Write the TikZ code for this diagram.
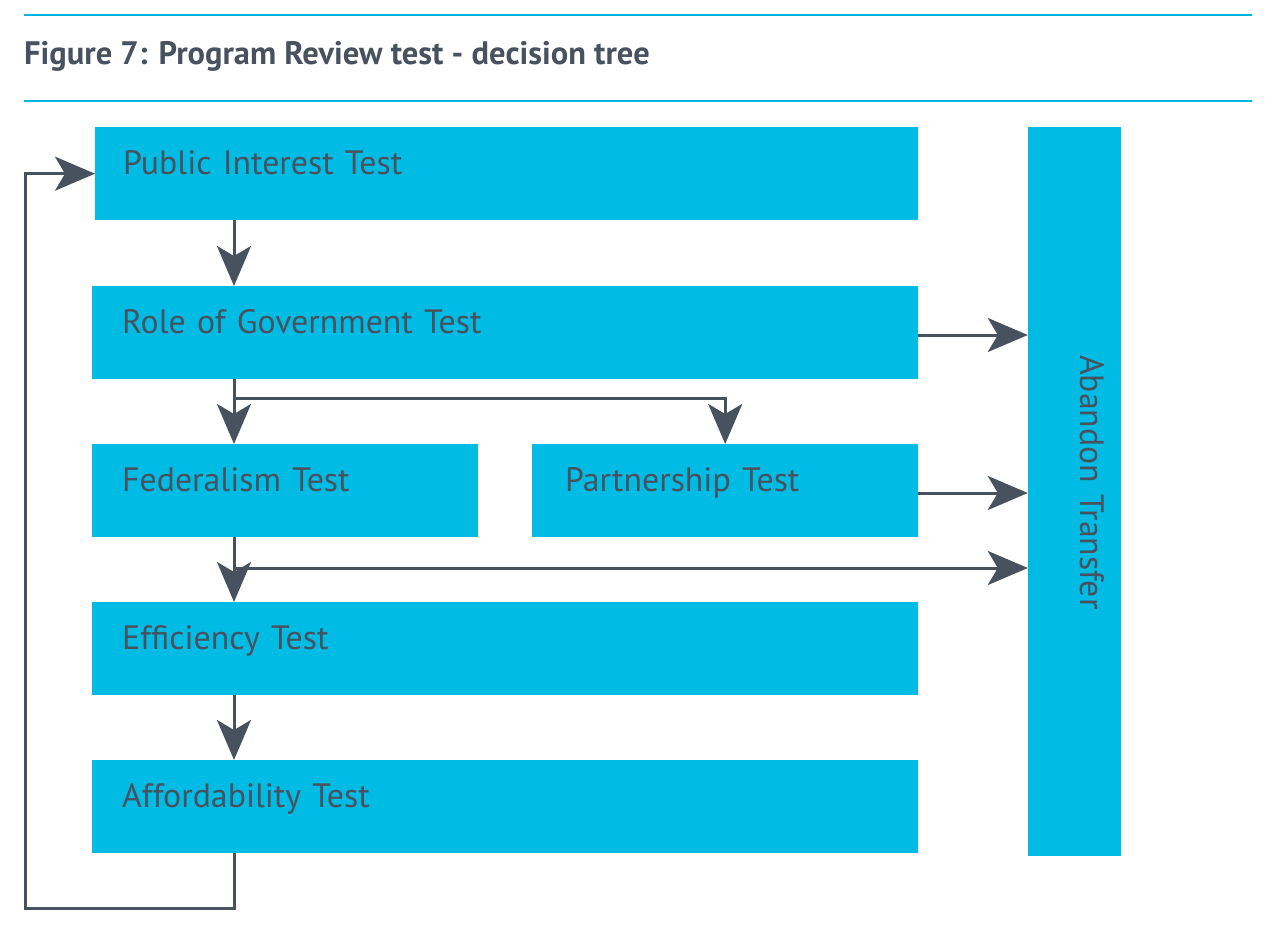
\documentclass[tikz,border=0pt]{standalone}
\usepackage{fontspec}
\setmainfont{PT Sans}
\usetikzlibrary{arrows.meta}

\definecolor{boxblue}{RGB}{0,188,228}
\definecolor{rulecyan}{RGB}{0,180,225}
\definecolor{inkgrey}{RGB}{71,82,94}

\tikzset{
  testbox/.style = {fill=boxblue, anchor=north west, minimum height=93pt,
    inner xsep=30pt, align=left, text=inkgrey,
    font=\fontsize{33.8}{40}\selectfont, text height=24pt, text depth=22pt},
  sidebox/.style = {fill=boxblue, rotate=-90, minimum width=729pt, minimum height=93pt,
    inner xsep=228pt, inner ysep=0pt, text width=273pt, align=left, text=inkgrey,
    font=\fontsize{33.8}{40}\selectfont, text height=24pt, text depth=35pt},
  flow/.style = {draw=inkgrey, line width=3pt, line join=miter,
    -{Stealth[length=40pt,width=34pt,inset=10pt]}}
}

\begin{document}
\begin{tikzpicture}[x=1pt,y=-1pt]
  \useasboundingbox (0,0) rectangle (1274,924);

  % Heading
  \draw[rulecyan, line width=1.5pt] (24,15) -- (1252,15);
  \node[anchor=base west, inner sep=0pt, text=inkgrey,
        font=\bfseries\fontsize{32.5}{38}\selectfont] (title) at (24,64)
        {Figure 7: Program Review test - decision tree};
  \draw[rulecyan, line width=1.5pt] (24,101) -- (1252,101);

  % Tests
  \node[testbox, minimum width=823pt, text width=767pt, inner xsep=28pt] (pub) at (95,127) {Public Interest Test};
  \node[testbox, minimum width=826pt, text width=766pt] (role) at (92,286) {Role of Government Test};
  \node[testbox, minimum width=386pt, text width=326pt] (fed) at (92,444) {Federalism Test};
  \node[testbox, minimum width=386pt, text width=326pt] (part) at (532,444) {\hspace{3pt}Partnership Test};
  \node[testbox, minimum width=826pt, text width=766pt] (eff) at (92,602) {Efficiency Test};
  \node[testbox, minimum width=826pt, text width=766pt] (afford) at (92,760) {Affordability Test};
  \node[sidebox] (aban) at (1074.5,491.5) {Abandon Transfer};

  % Connectors
  \coordinate (sp) at (234,0);
  \coordinate (split) at (234,398);
  \coordinate (join) at (234,568);
  \coordinate (lowturn) at (25,908);
  \coordinate (roleout) at (918,335);
  \coordinate (partout) at (918,493);

  \draw[flow] (pub.south -| sp) -- (role.north -| sp);
  \draw[flow] (role.south -| sp) -- (fed.north -| sp);
  \draw[flow] (split) -| (part.north);
  \draw[flow] (roleout) -- (roleout -| aban.south);
  \draw[flow] (partout) -- (partout -| aban.south);
  \draw[flow] (fed.south -| sp) -- (eff.north -| sp);
  \draw[flow] (join) -- (join -| aban.south);
  \draw[flow] (eff.south -| sp) -- (afford.north -| sp);
  \draw[flow] (afford.south -| sp) |- (lowturn) |- (pub.west);
\end{tikzpicture}
\end{document}
